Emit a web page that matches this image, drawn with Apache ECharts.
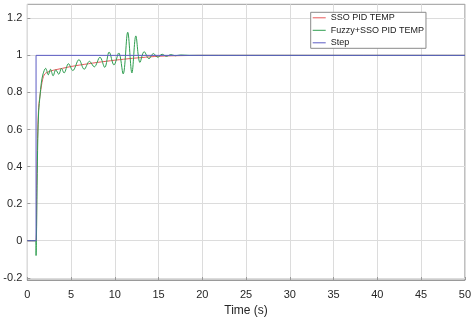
<!DOCTYPE html>
<html>
<head>
<meta charset="utf-8">
<script src="https://cdn.jsdelivr.net/npm/echarts@6/dist/echarts.min.js"></script>
<style>
  html, body { margin: 0; padding: 0; background: #fff; }
  #chart { width: 474px; height: 323px; }
</style>
</head>
<body>
<div id="chart"></div>
<script>
// Time axis (seconds)
const xTicks = [0, 5, 10, 15, 20, 25, 30, 35, 40, 45, 50];
const yTicks = [-0.2, 0, 0.2, 0.4, 0.6, 0.8, 1, 1.2];

// SSO PID temperature response: [time, value]
const ssoPid = [
  [0, 0], [1.0, 0], [1.08, 0.3], [1.17, 0.55], [1.3, 0.72], [1.5, 0.8],
  [1.75, 0.87], [2.0, 0.9], [2.5, 0.913], [3, 0.92], [4, 0.93], [5, 0.94],
  [6, 0.948], [7, 0.955], [8, 0.962], [9, 0.968], [10, 0.974], [11, 0.979],
  [12, 0.984], [13, 0.988], [14, 0.992], [15, 0.995], [16, 0.997],
  [18, 0.999], [20, 1], [50, 1]
];

// Fuzzy + SSO PID temperature response: [time, value]
const fuzzySsoPid = [
  [0, 0], [0.97, 0], [1.0, -0.08], [1.04, 0.0], [1.12, 0.3], [1.2, 0.55],
  [1.3, 0.7], [1.45, 0.78], [1.6, 0.85], [1.8, 0.9], [2.1, 0.93],
  [2.4, 0.895], [2.65, 0.925], [2.95, 0.89], [3.25, 0.922], [3.6, 0.898],
  [3.9, 0.93], [4.2, 0.905], [4.7, 0.955], [5.2, 0.918], [5.9, 0.977],
  [6.5, 0.925], [7.1, 0.968], [7.65, 0.938], [8.3, 0.99], [8.85, 0.935],
  [9.35, 1.018], [9.9, 0.948], [10.45, 1.013], [10.95, 0.9], [11.47, 1.125],
  [11.95, 0.905], [12.4, 1.105], [12.87, 0.962], [13.35, 1.02], [13.9, 0.982],
  [14.4, 1.01], [14.9, 0.99], [15.4, 1.006], [15.9, 0.995], [16.4, 1.004],
  [16.9, 0.998], [17.5, 1.002], [18.5, 1], [50, 1]
];

// Unit step reference: [time, value]
const stepRef = [[0, 0], [1, 0], [1, 1], [50, 1]];

const seriesNames = ['SSO PID TEMP', 'Fuzzy+SSO PID TEMP', 'Step'];
const seriesColors = ['#e8595b', '#2f9e50', '#5c5cc4'];

const font = 'Liberation Sans, Arial, Helvetica, sans-serif';
const chart = echarts.init(document.getElementById('chart'), null, { renderer: 'canvas' });

chart.setOption({
  animation: false,
  backgroundColor: '#fff',
  grid: [
    // outer box with the time grid lines
    { left: 27.3, right: 9, top: 4.3, bottom: 43, show: true, borderColor: '#9a9a9a', borderWidth: 1, backgroundColor: '#fff' },
    // value area (-0.2 .. 1.2)
    { left: 27.3, right: 9, top: 18.3, bottom: 45.2 }
  ],
  xAxis: [
    {
      gridIndex: 0, type: 'value', min: xTicks[0], max: xTicks[xTicks.length - 1], interval: 5,
      name: 'Time (s)', nameLocation: 'middle', nameGap: 24,
      nameTextStyle: { fontFamily: font, fontSize: 12, color: '#262626' },
      axisLine: { show: true, lineStyle: { color: '#9a9a9a', width: 1 } },
      axisTick: { show: true, inside: true, length: 3, lineStyle: { color: '#9a9a9a' } },
      axisLabel: { fontFamily: font, fontSize: 11, color: '#262626', margin: 9 },
      splitLine: { show: true, lineStyle: { color: '#dcdcdc', width: 1 } }
    },
    { gridIndex: 1, type: 'value', min: 0, max: 50, show: false }
  ],
  yAxis: [
    { gridIndex: 0, type: 'value', min: 0, max: 1, show: false },
    {
      gridIndex: 1, type: 'value', min: yTicks[0], max: yTicks[yTicks.length - 1], interval: 0.2,
      axisLine: { show: false },
      axisTick: { show: true, inside: true, length: 3, lineStyle: { color: '#9a9a9a' } },
      axisLabel: {
        fontFamily: font, fontSize: 11, color: '#262626', margin: 5,
        formatter: v => String(parseFloat(v.toFixed(1)))
      },
      splitLine: { show: true, lineStyle: { color: '#dcdcdc', width: 1 } }
    }
  ],
  legend: {
    orient: 'vertical', left: 310.7, top: 12.3,
    data: seriesNames,
    icon: 'rect', itemWidth: 13, itemHeight: 1, itemGap: 3.5,
    padding: [1, 2, 1, 2],
    backgroundColor: '#fff', borderColor: '#8a8a8a', borderWidth: 1,
    textStyle: { fontFamily: font, fontSize: 9, color: '#1a1a1a' }
  },
  series: [
    {
      name: seriesNames[0], type: 'line', xAxisIndex: 1, yAxisIndex: 1,
      data: ssoPid, showSymbol: false, smooth: 0.3,
      lineStyle: { color: seriesColors[0], width: 1 }, itemStyle: { color: seriesColors[0] }
    },
    {
      name: seriesNames[1], type: 'line', xAxisIndex: 1, yAxisIndex: 1,
      data: fuzzySsoPid, showSymbol: false, smooth: 0.35,
      lineStyle: { color: seriesColors[1], width: 1 }, itemStyle: { color: seriesColors[1] }
    },
    {
      name: seriesNames[2], type: 'line', xAxisIndex: 1, yAxisIndex: 1,
      data: stepRef, showSymbol: false,
      lineStyle: { color: seriesColors[2], width: 1 }, itemStyle: { color: seriesColors[2] }
    }
  ]
});
</script>
</body>
</html>
